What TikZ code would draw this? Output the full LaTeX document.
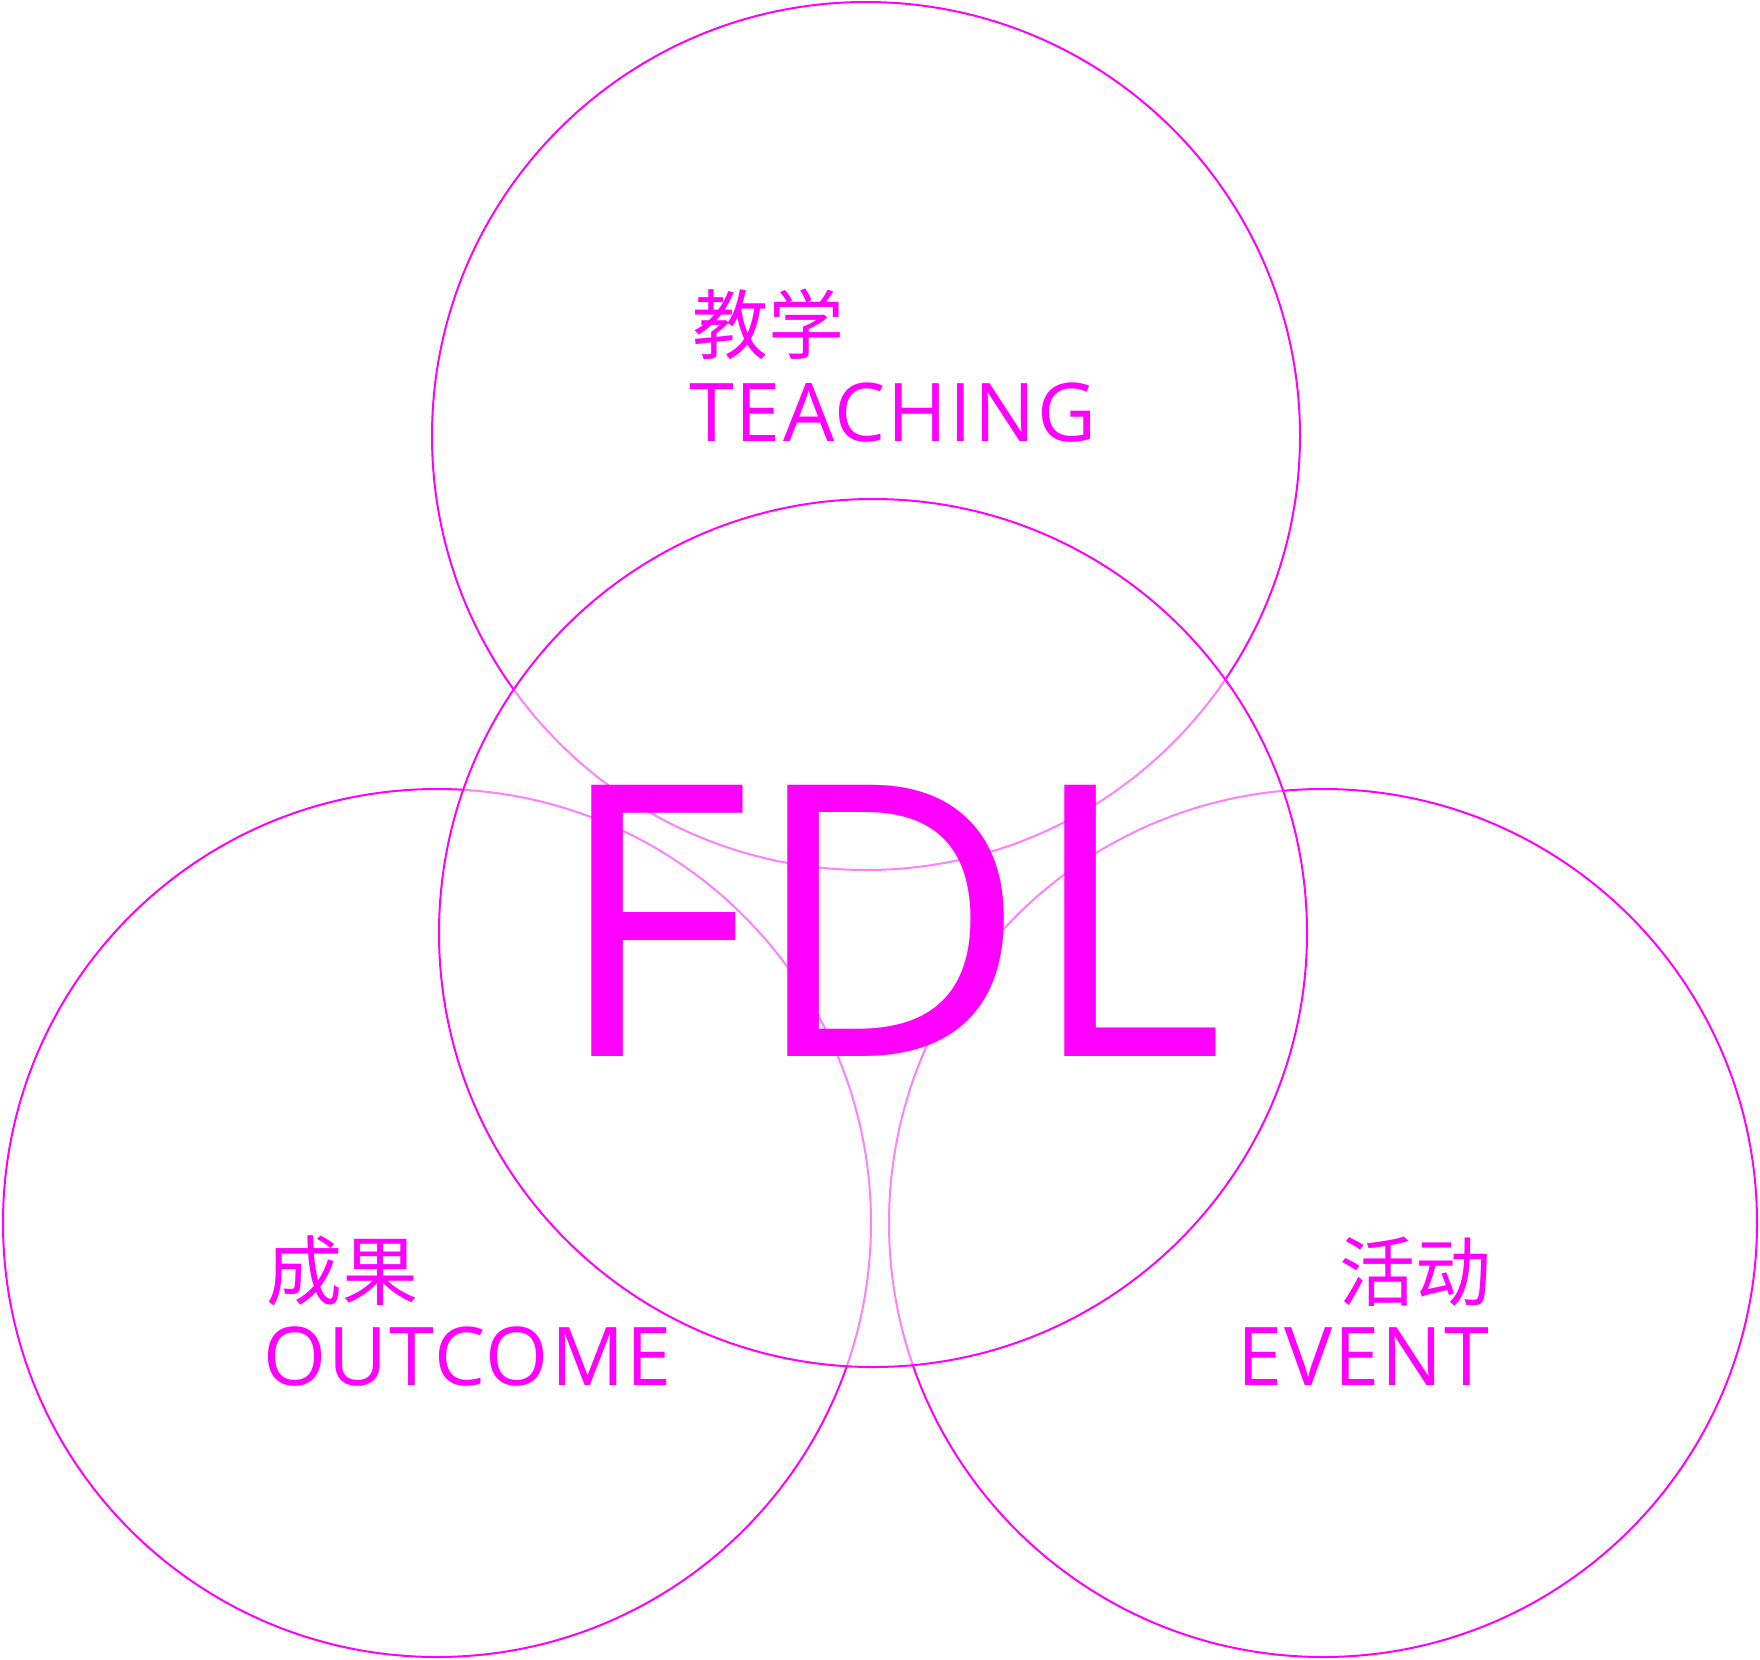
\documentclass[tikz,border=0pt]{standalone}
\usepackage{fontspec}
\setmainfont{Open Sans}
\newfontfamily\widesans{Open Sans}[LetterSpace=2.5]
\newfontfamily\cjk{Noto Sans CJK SC}
\usetikzlibrary{positioning}
\definecolor{fdlpink}{RGB}{255,0,255}

\begin{document}
\begin{tikzpicture}[x=1pt, y=-1pt, ring/.style={circle, draw=fdlpink, line width=2pt, minimum size=868pt, inner sep=0},
    word/.style={text=fdlpink, inner sep=0, anchor=base west, font=\widesans\fontsize{81}{81}\selectfont},
    hanzi/.style={text=fdlpink, inner sep=0, anchor=base west, font=\cjk\fontsize{76}{76}\selectfont}]

    \useasboundingbox (0,0) rectangle (1760,1659);

    \node[ring] (teach) at (866,436) {};
    \node[ring] (outcome) at (437,1223) {};
    \node[ring] (event) at (1323,1223) {};
    \node[ring, fill=white, fill opacity=0.5] (fdl) at (873,933) {};

    \node[word] (teachEn) at (689,441) {TEACHING};
    \node[hanzi] (teachZh) at (692,353) {教学};
    \node[word] (outcomeEn) at (263,1385) {OUTCOME};
    \node[hanzi] (outcomeZh) at (266,1299) {成果};
    \node[word, anchor=base east] (eventEn) at (1490,1385) {EVENT};
    \node[hanzi, anchor=base east] (eventZh) at (1492,1300) {活动};

    \node[text=fdlpink, inner sep=0, anchor=base, font=\fontsize{380}{380}\selectfont] (fdlText) at (890,1056) {FDL};
\end{tikzpicture}
\end{document}
